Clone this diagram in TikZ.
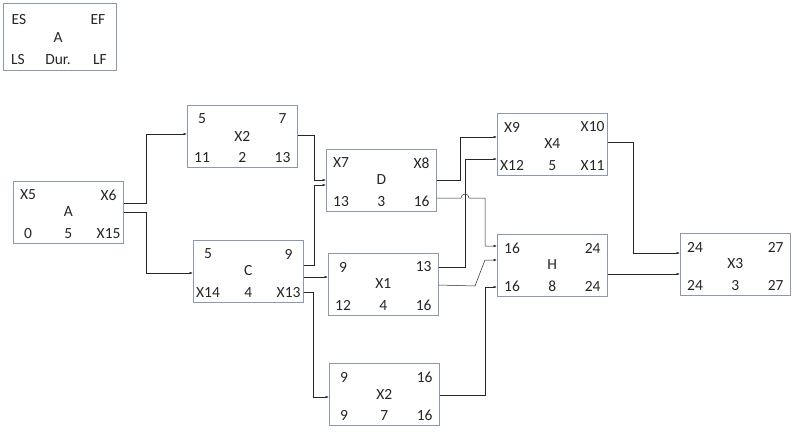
\documentclass[tikz,border=0pt]{standalone}
\usepackage{fontspec}
\setmainfont{Carlito}
\usetikzlibrary{arrows.meta}
\definecolor{bord}{rgb}{0.55,0.6,0.66}
\begin{document}
\begin{tikzpicture}[x=1pt,y=-1pt,
  box/.style={draw=bord,line width=0.6pt,fill=white},
  t/.style={font=\fontsize{15.5}{17}\selectfont,inner sep=0pt,text=black!85},
  conn/.style={draw=black!85,line width=0.5pt,-{Latex[length=3.5pt,width=2.5pt]}}]
\useasboundingbox (0,0) rectangle (797,440);
\newcommand\actbox[9]{%
  \node[box,minimum width=110pt,minimum height=62pt,anchor=north west] (#1) at (#2,#3) {};
  \node[t] at ([xshift=15pt,yshift=-14pt]#1.north west) {#4};
  \node[t] at ([xshift=-15pt,yshift=-14pt]#1.north east) {#5};
  \node[t] at ([yshift=-31pt]#1.north) {#6};
  \node[t] at ([xshift=15pt,yshift=10pt]#1.south west) {#7};
  \node[t] at ([yshift=10pt]#1.south) {#8};
  \node[t] at ([xshift=-15pt,yshift=10pt]#1.south east) {#9};}
% legend
\node[box,minimum width=113pt,minimum height=67pt,anchor=north west] (L) at (3,3) {};
\node[t] at (19,20) {ES};
\node[t] at (98,20) {EF};
\node[t] at (58,38) {A};
\node[t] at (18,60) {LS};
\node[t] at (58,60) {Dur.};
\node[t] at (100,60) {LF};
\actbox{A}{13}{181}{X5}{X6}{A}{0}{5}{X15}
\actbox{B}{187}{105}{5}{7}{X2}{11}{2}{13}
\actbox{D}{326}{149}{X7}{X8}{D}{13}{3}{16}
\actbox{C}{193}{240}{5}{9}{C}{X14}{4}{X13}
\actbox{E}{328}{253}{9}{13}{X1}{12}{4}{16}
\actbox{F}{329}{363}{9}{16}{X2}{9}{7}{16}
\actbox{G}{497}{113}{X9}{X10}{X4}{X12}{5}{X11}
\actbox{H}{497}{234}{16}{24}{H}{16}{8}{24}
\actbox{I}{680}{233}{24}{27}{X3}{24}{3}{27}
% connectors
\draw[conn] (A.east|-0,203) -- (146,203) |- (B.west|-0,134);
\draw[conn] (A.east|-0,212) -- (146,212) |- (C.west|-0,273);
\draw[conn] (B.east|-0,135) -- (314,135) |- (D.west|-0,180);
\draw[conn] (C.east|-0,265) -- (314,265) |- (D.west|-0,185);
\draw[conn] (C.east|-0,277) -- (E.west|-0,277);
\draw[conn] (C.east|-0,292) -- (313,292) |- (F.west|-0,397);
\draw[conn] (D.east|-0,180) -- (460,180) |- (G.west|-0,137);
\draw[conn] (E.east|-0,267) -- (465,267) |- (G.west|-0,159);
\draw[conn] (D.east|-0,198) -- (461,198) arc[start angle=180,end angle=0,radius=4pt] -- (485,198) |- (H.west|-0,246);
\draw[conn] (E.east|-0,285) -- (475,286) -- (485,260) -- (H.west|-0,260);
\draw[conn] (F.east|-0,395) -- (485,395) |- (H.west|-0,287);
\draw[conn] (G.east|-0,142) -- (633,142) |- (I.west|-0,253);
\draw[conn] (H.east|-0,274) -- (I.west|-0,274);
\end{tikzpicture}
\end{document}
